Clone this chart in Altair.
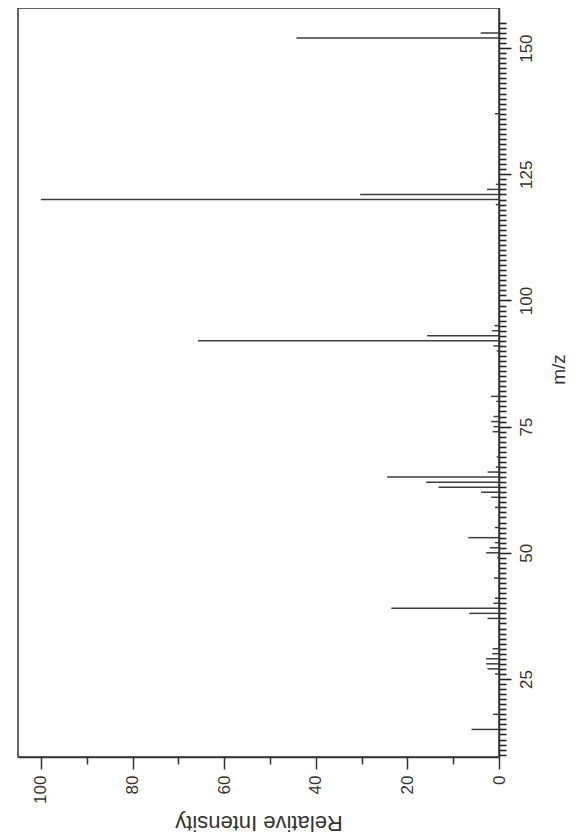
import altair as alt
import pandas as pd

# Mass spectrum (m/z vs relative intensity)
MZ = [15, 18, 26, 27, 28, 29, 30, 31,
      37, 38, 39, 40, 41,
      45, 49, 50, 51, 52, 53, 55, 59,
      61, 62, 63, 64, 65, 66, 67, 69,
      74, 75, 76, 77, 80, 81,
      90, 91, 92, 93, 94, 95,
      119, 120, 121, 122, 123,
      137, 152, 153]
INTENSITY = [6.0, 1.3, 0.9, 2.5, 2.8, 2.8, 1.5, 1.4,
             2.5, 6.5, 23.5, 1.2, 0.9,
             1.1, 0.4, 2.8, 2.0, 0.9, 6.7, 0.9, 0.9,
             1.7, 3.9, 13.2, 15.9, 24.4, 2.5, 0.7, 0.5,
             1.4, 1.2, 1.7, 1.2, 0.6, 1.7,
             0.5, 1.2, 65.7, 15.7, 1.5, 1.0,
             0.7, 100.0, 30.3, 2.6, 0.7,
             0.9, 44.2, 4.0]

MZ_TICKS = list(range(10, 156))
INT_TICKS = [0, 10, 20, 30, 40, 50, 60, 70, 80, 90, 100]

df = pd.DataFrame({"mz": MZ, "intensity": INTENSITY, "base": [0.0] * len(MZ)})

FONT = "Liberation Sans"
INK = "#333333"

chart = alt.Chart(df).mark_rule(color="#3c3c3c", strokeWidth=1.5).encode(
    y=alt.Y(
        "mz:Q",
        scale=alt.Scale(domain=[9.54, 157.95], nice=False, zero=False),
        axis=alt.Axis(
            orient="right",
            title="m/z",
            values=MZ_TICKS,
            labelExpr="datum.value % 25 === 0 ? datum.label : ''",
            tickSize={"expr": "datum.value % 25 === 0 ? 12 : 7"},
            tickColor="#222222",
            tickWidth=1.6,
            labelOverlap=False,
            labelFlush=False,
            grid=False,
            labelAngle=270,
            labelAlign="center",
            labelBaseline="top",
            labelPadding=7,
            labelFontSize=17,
            titleAngle=270,
            titleAlign="center",
            titleBaseline="top",
            titleX=50,
            titleY=361,
            titleFontSize=19,
        ),
    ),
    x=alt.X(
        "intensity:Q",
        scale=alt.Scale(domain=[0, 105], reverse=True, nice=False),
        axis=alt.Axis(
            orient="bottom",
            title="Relative Intensity",
            values=INT_TICKS,
            labelExpr="datum.value % 20 === 0 ? datum.label : ''",
            tickSize={"expr": "datum.value % 20 === 0 ? 12 : 7"},
            labelOverlap=False,
            labelFlush=False,
            grid=False,
            labelAngle=270,
            labelAlign="right",
            labelBaseline="middle",
            labelPadding=6,
            labelFontSize=17,
            titleAngle=180,
            titleAlign="center",
            titleBaseline="alphabetic",
            titleY=58,
            titleFontSize=22,
        ),
    ),
    x2="base:Q",
).properties(
    width=481,
    height=749,
    padding={"left": 10, "top": 0, "right": 4, "bottom": 6},
).configure_view(
    stroke=INK, strokeWidth=1.5
).configure_axis(
    domainColor=INK,
    domainWidth=1.5,
    tickColor=INK,
    tickWidth=1.5,
    labelColor=INK,
    titleColor=INK,
    labelFont=FONT,
    titleFont=FONT,
    titleFontWeight="normal",
)

chart.save("out.html", embed_options={"renderer": "svg", "actions": False})
